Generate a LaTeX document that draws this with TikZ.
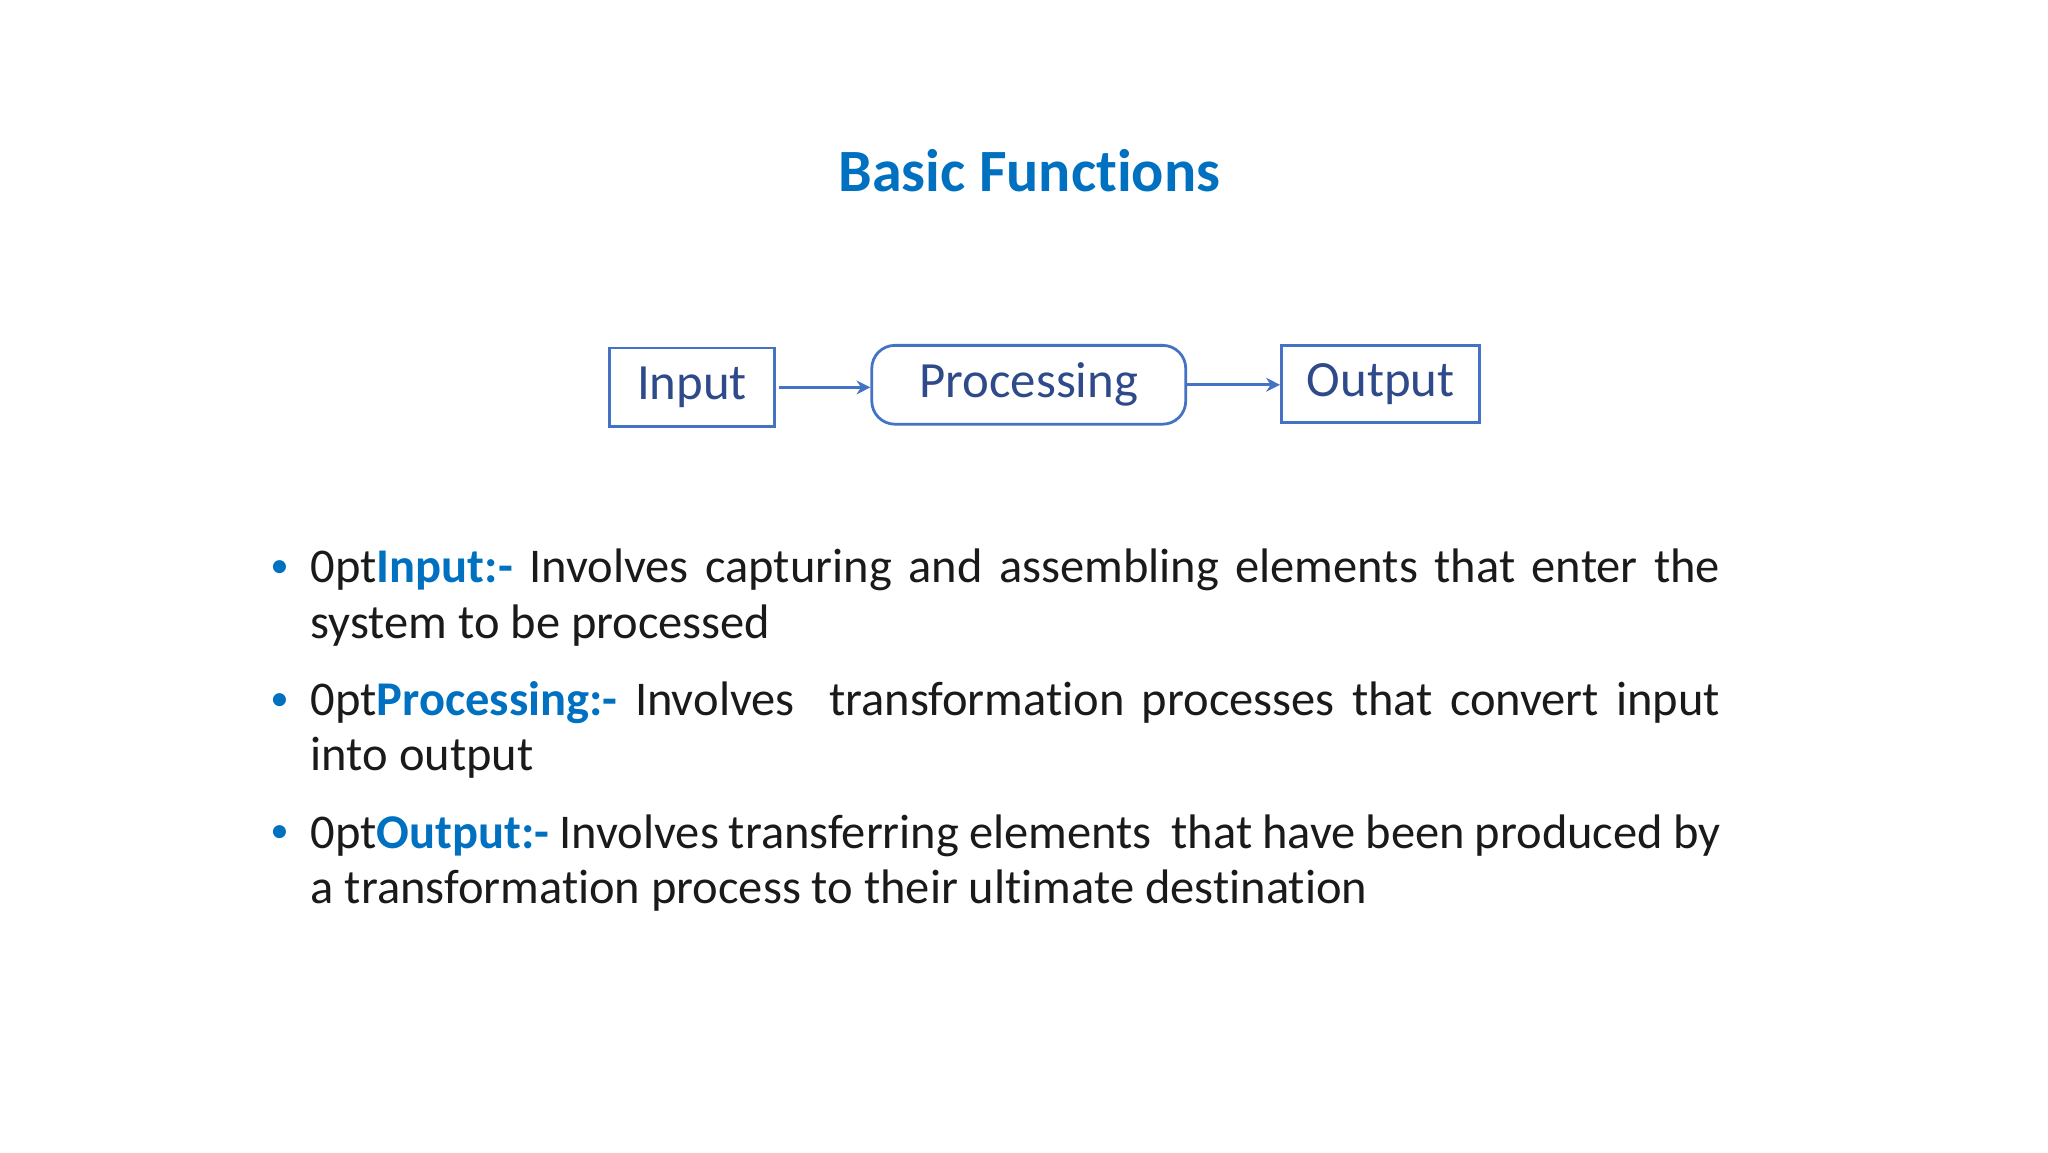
\documentclass[tikz,border=0pt]{standalone}
\usepackage{fontspec}
\setmainfont{Carlito}[Ligatures=NoCommon]
\usetikzlibrary{arrows.meta}
\definecolor{ttl}{HTML}{0070C0}
\definecolor{bx}{HTML}{4472C4}
\definecolor{bxt}{HTML}{2F4A8A}
\definecolor{txt}{HTML}{1A1A1A}
\begin{document}
\begin{tikzpicture}[x=0.01cm,y=-0.01cm,
  box/.style={draw=bx,line width=0.6pt,text=bxt,font=\fontsize{11pt}{13pt}\selectfont,inner sep=0pt,anchor=north west},
  arr/.style={draw=bx,line width=0.6pt,-{Stealth[length=3pt,width=3pt]}},
  bul/.style={anchor=base west,inner sep=0pt,text width=10.73cm,align=justify,text=txt,font=\fontsize{10.5pt}{12pt}\selectfont\hyphenpenalty=10000\exhyphenpenalty=10000},
  ]
\useasboundingbox[fill=white] (0,0) rectangle (1560,877.5);
\node[text=ttl,font=\fontsize{13pt}{15pt}\selectfont\bfseries] (title) at (784,130) {Basic Functions};
\node[box,text width=1.26cm,minimum height=0.6cm,align=center] (in) at (463,264) {Input};
\node[box,rounded corners=5pt,text width=2.39cm,minimum height=0.6cm,align=center] (pr) at (663,262) {Processing};
\node[box,text width=1.51cm,minimum height=0.59cm,align=center] (out) at (975,262) {Output};
\draw[arr] (in.east) ++(2,0) coordinate (a1) -- (pr.west |- a1);
\draw[arr] (pr.east) -- (out.west |- pr.east);
\foreach \y/\n in {440/b1,541/b2,642/b3}{
  \node[anchor=base,text=ttl,font=\fontsize{8pt}{10pt}\selectfont,inner sep=0pt] (\n) at (213,\y) {•};}
\node[bul] (t1) at (236,444) {{\bfseries\color{ttl}Input:-} Involves capturing and assembling elements that enter the system to be processed};
\node[bul] (t2) at (236,545) {{\bfseries\color{ttl}Processing:-} Involves\ \ transformation processes that convert input into output};
\node[bul] (t3) at (236,646) {{\bfseries\color{ttl}Output:-} Involves transferring elements\ \ that have been produced by a transformation process to their ultimate destination};
\end{tikzpicture}
\end{document}
